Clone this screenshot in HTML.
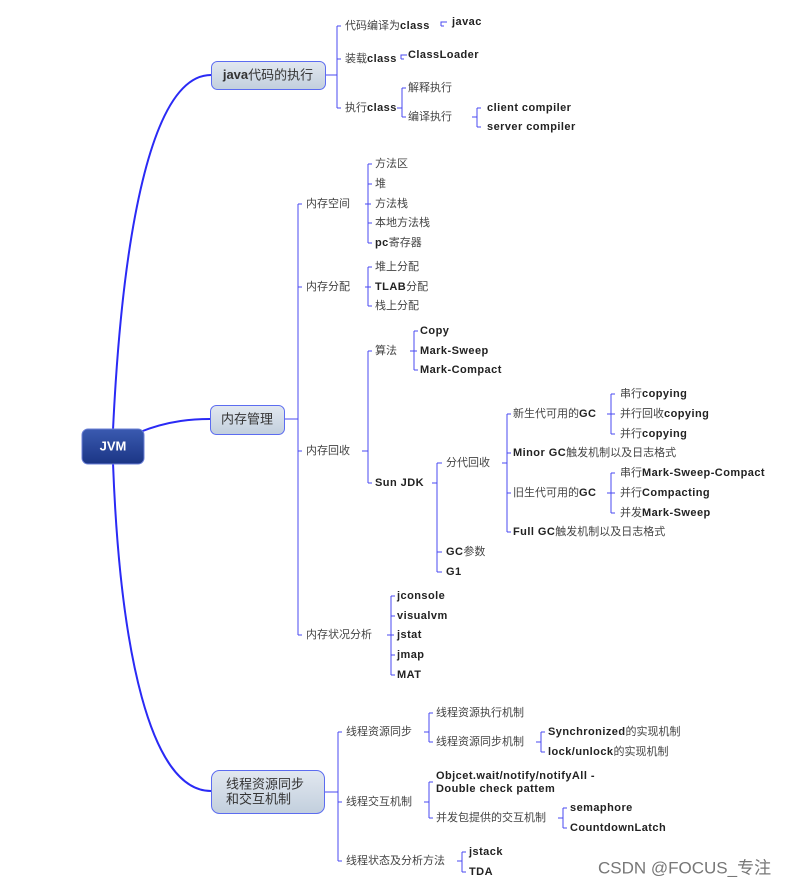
<!DOCTYPE html>
<html><head><meta charset="utf-8"><style>
html,body{margin:0;padding:0;background:#fff;}
svg{display:block;}
text{font-family:"Liberation Sans","Noto Sans CJK SC",sans-serif;font-size:11px;fill:#444;dominant-baseline:middle;}
.b{font-weight:bold;fill:#222;letter-spacing:0.45px;}
</style></head><body>
<svg width="795" height="889" viewBox="0 0 795 889" xmlns="http://www.w3.org/2000/svg">
<defs>
<linearGradient id="g1" x1="0" y1="0" x2="0" y2="1"><stop offset="0" stop-color="#e2e8f0"/><stop offset="1" stop-color="#c2cfdd"/></linearGradient>
<linearGradient id="g2" x1="0" y1="0" x2="0" y2="1"><stop offset="0" stop-color="#3a5ab0"/><stop offset="1" stop-color="#1b3585"/></linearGradient>
</defs>
<g fill="none" stroke="#2a2af5" stroke-width="2">
<path d="M113,430 C122,240 150,75 211,75"/>
<path d="M140,432 C170,420 195,419 210,419"/>
<path d="M113,463 C120,650 150,791 211,791"/>
</g>
<g fill="none" stroke="#4848f0" stroke-width="1">
<path d="M326,75H337M337,26V108M337,26H341M337,59H341M337,108H341"/>
<path d="M441,26V22H447M441,26H444"/>
<path d="M401,59V55H407M401,59H404"/>
<path d="M397,108H402M402,88V117M402,88H406M402,117H406"/>
<path d="M472,117H477M477,108V127M477,108H481M477,127H481"/>
<path d="M285,419H298M298,204V635M298,204H302M298,287H302M298,451H302M298,635H302"/>
<path d="M365,204H371M368,164V243M368,164H372M368,184H372M368,223H372M368,243H372"/>
<path d="M365,287H371M368,267V306M368,267H372M368,306H372"/>
<path d="M362,451H368M368,351V483M368,351H372M368,483H372"/>
<path d="M410,351H417M414,331V370M414,331H418M414,370H418"/>
<path d="M432,483H437M437,463V572M437,463H442M437,552H442M437,572H442"/>
<path d="M502,463H507M507,414V532M507,414H511M507,453H511M507,493H511M507,532H511"/>
<path d="M607,414H615M611,394V434M611,394H615M611,434H615"/>
<path d="M607,493H615M611,473V513M611,473H615M611,513H615"/>
<path d="M387,635H394M391,596V675M391,596H395M391,616H395M391,655H395M391,675H395"/>
<path d="M325,792H338M338,732V861M338,732H342M338,802H342M338,861H342"/>
<path d="M424,732H429M429,713V742M429,713H433M429,742H433"/>
<path d="M536,742H541M541,732V752M541,732H545M541,752H545"/>
<path d="M424,802H429M429,782V818M429,782H433M429,818H433"/>
<path d="M558,818H563M563,808V828M563,808H567M563,828H567"/>
<path d="M457,861H462M462,852V872M462,852H466M462,872H466"/>
</g>
<rect x="82" y="429" width="62" height="35" rx="6" fill="url(#g2)" stroke="#6a7fd6"/>
<text x="113" y="447" text-anchor="middle" style="fill:#fff;font-weight:bold;font-size:13px">JVM</text>
<rect x="211.5" y="61.5" width="114" height="28" rx="6" fill="url(#g1)" stroke="#5c6cf0"/>
<text x="268" y="76" text-anchor="middle" style="font-size:13px;fill:#333"><tspan style="font-weight:bold;fill:#333">java</tspan>代码的执行</text>
<rect x="210.5" y="405.5" width="74" height="29" rx="6" fill="url(#g1)" stroke="#5c6cf0"/>
<text x="247" y="420" text-anchor="middle" style="font-size:13px;fill:#333">内存管理</text>
<rect x="211.5" y="770.5" width="113" height="43" rx="8" fill="url(#g1)" stroke="#5c6cf0"/>
<text x="226" y="785" style="font-size:13px;fill:#333">线程资源同步</text>
<text x="226" y="800" style="font-size:13px;fill:#333">和交互机制</text>
<text x="345" y="26">代码编译为<tspan class="b">class</tspan></text>
<text x="345" y="59">装载<tspan class="b">class</tspan></text>
<text x="345" y="108">执行<tspan class="b">class</tspan></text>
<text x="452" y="22" class="b">javac</text>
<text x="408" y="55" class="b">ClassLoader</text>
<text x="408" y="88">解释执行</text>
<text x="408" y="117">编译执行</text>
<text x="487" y="108" class="b">client compiler</text>
<text x="487" y="127" class="b">server compiler</text>
<text x="306" y="204">内存空间</text>
<text x="306" y="287">内存分配</text>
<text x="306" y="451">内存回收</text>
<text x="306" y="635">内存状况分析</text>
<text x="375" y="164">方法区</text>
<text x="375" y="184">堆</text>
<text x="375" y="204">方法栈</text>
<text x="375" y="223">本地方法栈</text>
<text x="375" y="243"><tspan class="b">pc</tspan>寄存器</text>
<text x="375" y="267">堆上分配</text>
<text x="375" y="287"><tspan class="b">TLAB</tspan>分配</text>
<text x="375" y="306">栈上分配</text>
<text x="375" y="351">算法</text>
<text x="375" y="483" class="b">Sun JDK</text>
<text x="420" y="331" class="b">Copy</text>
<text x="420" y="351" class="b">Mark-Sweep</text>
<text x="420" y="370" class="b">Mark-Compact</text>
<text x="446" y="463">分代回收</text>
<text x="446" y="552"><tspan class="b">GC</tspan>参数</text>
<text x="446" y="572" class="b">G1</text>
<text x="513" y="414">新生代可用的<tspan class="b">GC</tspan></text>
<text x="513" y="453"><tspan class="b">Minor GC</tspan>触发机制以及日志格式</text>
<text x="513" y="493">旧生代可用的<tspan class="b">GC</tspan></text>
<text x="513" y="532"><tspan class="b">Full GC</tspan>触发机制以及日志格式</text>
<text x="620" y="394">串行<tspan class="b">copying</tspan></text>
<text x="620" y="414">并行回收<tspan class="b">copying</tspan></text>
<text x="620" y="434">并行<tspan class="b">copying</tspan></text>
<text x="620" y="473">串行<tspan class="b">Mark-Sweep-Compact</tspan></text>
<text x="620" y="493">并行<tspan class="b">Compacting</tspan></text>
<text x="620" y="513">并发<tspan class="b">Mark-Sweep</tspan></text>
<text x="397" y="596" class="b">jconsole</text>
<text x="397" y="616" class="b">visualvm</text>
<text x="397" y="635" class="b">jstat</text>
<text x="397" y="655" class="b">jmap</text>
<text x="397" y="675" class="b">MAT</text>
<text x="346" y="732">线程资源同步</text>
<text x="346" y="802">线程交互机制</text>
<text x="346" y="861">线程状态及分析方法</text>
<text x="436" y="713">线程资源执行机制</text>
<text x="436" y="742">线程资源同步机制</text>
<text x="548" y="732"><tspan class="b">Synchronized</tspan>的实现机制</text>
<text x="548" y="752"><tspan class="b">lock/unlock</tspan>的实现机制</text>
<text x="436" y="776" class="b">Objcet.wait/notify/notifyAll -</text>
<text x="436" y="789" class="b">Double check pattem</text>
<text x="436" y="818">并发包提供的交互机制</text>
<text x="570" y="808" class="b">semaphore</text>
<text x="570" y="828" class="b">CountdownLatch</text>
<text x="469" y="852" class="b">jstack</text>
<text x="469" y="872" class="b">TDA</text>
<text x="598" y="869" style="font-size:17px;fill:#777">CSDN @FOCUS_专注</text>
</svg>
</body></html>
